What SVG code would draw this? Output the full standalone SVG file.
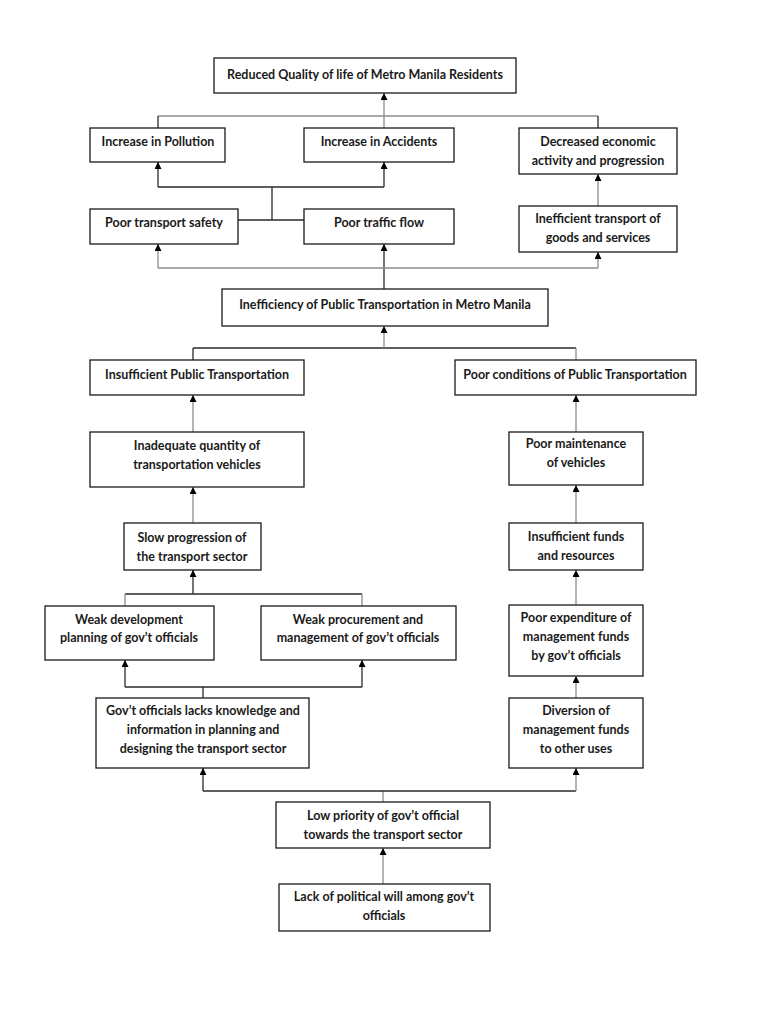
<svg xmlns="http://www.w3.org/2000/svg" width="768" height="1024" viewBox="0 0 768 1024">
<defs>
<marker id="ah" viewBox="0 0 10 10" refX="10" refY="5" markerWidth="8" markerHeight="7" markerUnits="userSpaceOnUse" orient="auto">
<path d="M0,0 L10,5 L0,10 z" fill="#000"/>
</marker>
</defs>
<style>
rect.box{fill:#fff;stroke:#1a1a1a;stroke-width:1.3}
text{font-family:Lato,"Liberation Sans",sans-serif;font-weight:bold;font-size:12.5px;fill:#1a1a1a;text-anchor:middle}
.d{fill:none;stroke:#2a2a2a;stroke-width:1.3}
.g{fill:none;stroke:#8c8c8c;stroke-width:1.3}
.a{marker-end:url(#ah)}
</style>
<rect width="768" height="1024" fill="#fff"/>
<g id="connectors">
<path class="g a" d="M384,128 V93"/>
<path class="g" d="M158,116 H598"/>
<path class="d" d="M158,116 V128 M598,116 V128"/>
<path class="d" d="M238,220 H304 M272,220 V187 M158,187 H384"/>
<path class="d a" d="M158,187 V162"/>
<path class="d a" d="M384,187 V162"/>
<path class="g a" d="M598,206 V174"/>
<path class="d a" d="M384,289 V244"/>
<path class="g" d="M158,268 H598"/>
<path class="g a" d="M158,268 V244"/>
<path class="g a" d="M598,268 V252"/>
<path class="d" d="M193,348 H576 M193,348 V360"/>
<path class="g" d="M576,348 V360"/>
<path class="g a" d="M384,348 V326"/>
<path class="g a" d="M193,432 V395"/>
<path class="g a" d="M193,523 V487"/>
<path class="d a" d="M193,594 V570"/>
<path class="d" d="M125,594 H362"/>
<path class="g" d="M125,594 V606 M362,594 V606"/>
<path class="d" d="M203,698 V687 M125,687 H362"/>
<path class="d a" d="M125,687 V660"/>
<path class="d a" d="M362,687 V660"/>
<path class="g a" d="M576,432 V395"/>
<path class="g a" d="M576,523 V485"/>
<path class="g a" d="M576,605 V570"/>
<path class="g a" d="M576,698 V676"/>
<path class="g" d="M383,802 V791"/>
<path class="d" d="M203,791 H576"/>
<path class="d a" d="M203,791 V768"/>
<path class="g a" d="M576,791 V768"/>
<path class="g a" d="M383,884 V848"/>
</g>
<g id="n1"><rect class="box" x="214" y="58" width="302" height="35"/><text x="365" y="79">Reduced Quality of life of Metro Manila Residents</text></g>
<g id="n2"><rect class="box" x="90" y="128" width="135" height="34"/><text x="158" y="146">Increase in Pollution</text></g>
<g id="n3"><rect class="box" x="304" y="128" width="150" height="34"/><text x="379" y="146">Increase in Accidents</text></g>
<g id="n4"><rect class="box" x="519" y="128" width="158" height="46"/><text x="598" y="146">Decreased economic</text><text x="598" y="165">activity and progression</text></g>
<g id="n5"><rect class="box" x="90" y="209" width="148" height="35"/><text x="164" y="227">Poor transport safety</text></g>
<g id="n6"><rect class="box" x="304" y="209" width="150" height="35"/><text x="379" y="227">Poor traffic flow</text></g>
<g id="n7"><rect class="box" x="519" y="206" width="158" height="46"/><text x="598" y="223">Inefficient transport of</text><text x="598" y="242">goods and services</text></g>
<g id="n8"><rect class="box" x="222" y="289" width="326" height="37"/><text x="385" y="309">Inefficiency of Public Transportation in Metro Manila</text></g>
<g id="n9"><rect class="box" x="90" y="360" width="214" height="35"/><text x="197" y="379">Insufficient Public Transportation</text></g>
<g id="n10"><rect class="box" x="455" y="360" width="241" height="35"/><text x="575" y="379">Poor conditions of Public Transportation</text></g>
<g id="n11"><rect class="box" x="90" y="432" width="214" height="55"/><text x="197" y="450">Inadequate quantity of</text><text x="197" y="469">transportation vehicles</text></g>
<g id="n12"><rect class="box" x="124" y="523" width="137" height="47"/><text x="192" y="542">Slow progression of</text><text x="192" y="561">the transport sector</text></g>
<g id="n13"><rect class="box" x="509" y="432" width="134" height="53"/><text x="576" y="448">Poor maintenance</text><text x="576" y="467">of vehicles</text></g>
<g id="n14"><rect class="box" x="509" y="523" width="134" height="47"/><text x="576" y="541">Insufficient funds</text><text x="576" y="560">and resources</text></g>
<g id="n15"><rect class="box" x="509" y="605" width="134" height="71"/><text x="576" y="622">Poor expenditure of</text><text x="576" y="641">management funds</text><text x="576" y="660">by gov’t officials</text></g>
<g id="n16"><rect class="box" x="509" y="698" width="134" height="70"/><text x="576" y="715">Diversion of</text><text x="576" y="734">management funds</text><text x="576" y="753">to other uses</text></g>
<g id="n17"><rect class="box" x="45" y="606" width="169" height="54"/><text x="129" y="624">Weak development</text><text x="129" y="642">planning of gov’t officials</text></g>
<g id="n18"><rect class="box" x="261" y="606" width="195" height="54"/><text x="358" y="624">Weak procurement and</text><text x="358" y="642">management of gov’t officials</text></g>
<g id="n19"><rect class="box" x="96" y="698" width="213" height="70"/><text x="203" y="715">Gov’t officials lacks knowledge and</text><text x="203" y="734">information in planning and</text><text x="203" y="753">designing the transport sector</text></g>
<g id="n20"><rect class="box" x="276" y="802" width="214" height="46"/><text x="383" y="820">Low priority of gov’t official</text><text x="383" y="839">towards the transport sector</text></g>
<g id="n21"><rect class="box" x="279" y="884" width="211" height="47"/><text x="384" y="901">Lack of political will among gov’t</text><text x="384" y="920">officials</text></g>
</svg>
